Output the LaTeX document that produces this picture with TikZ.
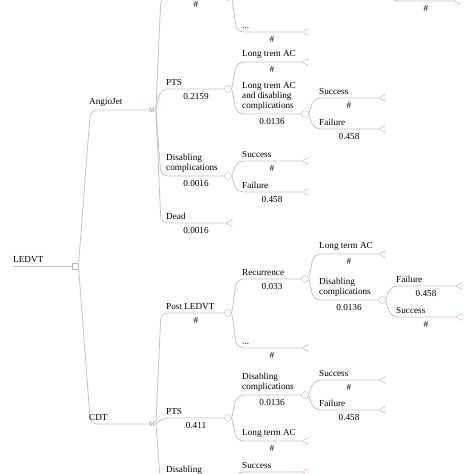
\documentclass[tikz,border=0pt]{standalone}
\usepackage{fontspec}
\setmainfont{Liberation Serif}
\usetikzlibrary{calc,shapes.geometric}
\definecolor{lineclr}{HTML}{CBC0C5}
\definecolor{endclr}{HTML}{E2A3BA}
\definecolor{mclr}{HTML}{A673B4}
\tikzset{
  conn/.style={draw=lineclr, line width=0.8pt, rounded corners=7pt},
  decnode/.style={rectangle, draw=gray!55, fill=white, minimum size=6.5pt, inner sep=0pt},
  chnode/.style={circle, draw=gray!55, fill=white, minimum size=7pt, inner sep=0pt},
  endnode/.style={isosceles triangle, shape border rotate=180, isosceles triangle stretches,
    draw=endclr, fill=white, minimum width=7pt, minimum height=6pt, inner sep=0pt},
  mnode/.style={text=mclr, font=\fontsize{7}{7}\selectfont, inner sep=0.6pt},
  lab/.style={anchor=south west, align=left, inner sep=0pt, font=\fontsize{9.2}{10}\selectfont},
  prob/.style={anchor=north, inner sep=0pt, font=\fontsize{9.2}{10}\selectfont},
}
% \branch[corner offset]{parent}{child}{label}{probability}
\newcommand\branch[5][5]{%
  \draw[conn] (#2.east) -- ($(#2.east |- #3.west)+(#1pt,0)$) -- (#3.west);
  \node[lab] (#3-lab) at ($(#2.center |- #3.west)+(14pt,3.5pt)$) {#4};
  \node[prob] (#3-p) at ($(#2.center |- #3.west)+(44pt,-4.5pt)$) {#5};
}
\begin{document}
\begin{tikzpicture}[x=1pt,y=-1pt]
\useasboundingbox (0,0) rectangle (474,474);
\clip (0,0) rectangle (474,474);

\coordinate (start) at (13,266);
\node[decnode] (ledvt) at (75,266) {};
\node[mnode] (angio) at (152,110) {M};
\node[mnode] (cdt) at (152,424) {M};

% AngioJet
\node[chnode] (aTop) at (228,-3) {};
\node[chnode] (aPts) at (228,89) {};
\node[chnode] (aDis) at (228,176) {};
\node[endnode] (aDead) at (230,223) {};
\node[endnode] (aTopMore) at (306,32) {};
\node[chnode] (xTop) at (382,-30) {};
\node[endnode] (xTopEnd) at (458,1) {};
\node[endnode] (aPtsLt) at (306,62) {};
\node[chnode] (aPtsLtd) at (305,114) {};
\node[endnode] (aPtsLtdS) at (383,98) {};
\node[endnode] (aPtsLtdF) at (383,129) {};
\node[endnode] (aDisS) at (306,161) {};
\node[endnode] (aDisF) at (306,192) {};

% CDT
\node[chnode] (cPost) at (228,313) {};
\node[chnode] (cPts) at (228,418) {};
\node[chnode] (cDis) at (228,488) {};
\node[chnode] (cRec) at (305,279) {};
\node[endnode] (cPostMore) at (306,348) {};
\node[endnode] (cRecLt) at (383,254) {};
\node[chnode] (cRecDis) at (382,300) {};
\node[endnode] (cRecDisF) at (460,286) {};
\node[endnode] (cRecDisS) at (460,317) {};
\node[chnode] (cPtsDis) at (305,395) {};
\node[endnode] (cPtsLt) at (306,441) {};
\node[endnode] (cPtsDisS) at (383,380) {};
\node[endnode] (cPtsDisF) at (383,410) {};
\node[endnode] (cDisS) at (306,472) {};

\draw[conn] (start) -- (ledvt.west);
\node[lab] (ledvt-lab) at ($(start)+(0,3.5pt)$) {LEDVT};
\branch[12]{ledvt}{angio}{AngioJet}{}
\branch[12]{ledvt}{cdt}{CDT}{}

\branch{angio}{aTop}{}{\#}
\branch{angio}{aPts}{PTS}{0.2159}
\branch{angio}{aDis}{Disabling\\complications}{0.0016}
\branch{angio}{aDead}{Dead}{0.0016}
\branch{aTop}{aTopMore}{...}{\#}
\branch{xTop}{xTopEnd}{}{\#}
\branch{aPts}{aPtsLt}{Long trem AC}{\#}
\branch{aPts}{aPtsLtd}{Long trem AC\\and disabling\\complications}{0.0136}
\branch{aPtsLtd}{aPtsLtdS}{Success}{\#}
\branch{aPtsLtd}{aPtsLtdF}{Failure}{0.458}
\branch{aDis}{aDisS}{Success}{\#}
\branch{aDis}{aDisF}{Failure}{0.458}

\branch{cdt}{cPost}{Post LEDVT}{\#}
\branch{cdt}{cPts}{PTS}{0.411}
\branch{cdt}{cDis}{Disabling\\complications}{}
\branch{cPost}{cRec}{Recurrence}{0.033}
\branch{cPost}{cPostMore}{...}{\#}
\branch{cRec}{cRecLt}{Long term AC}{\#}
\branch{cRec}{cRecDis}{Disabling\\complications}{0.0136}
\branch{cRecDis}{cRecDisF}{Failure}{0.458}
\branch{cRecDis}{cRecDisS}{Success}{\#}
\branch{cPts}{cPtsDis}{Disabling\\complications}{0.0136}
\branch{cPts}{cPtsLt}{Long term AC}{\#}
\branch{cPtsDis}{cPtsDisS}{Success}{\#}
\branch{cPtsDis}{cPtsDisF}{Failure}{0.458}
\branch{cDis}{cDisS}{Success}{}
\end{tikzpicture}
\end{document}
